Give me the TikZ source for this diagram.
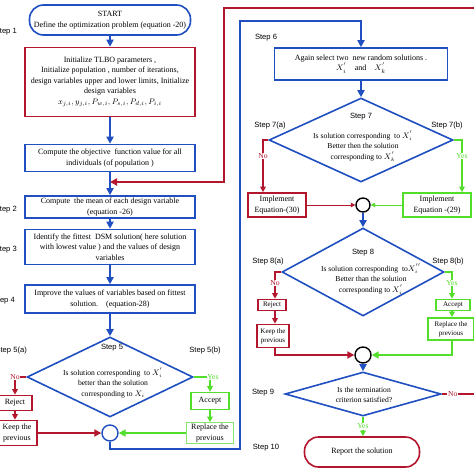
\documentclass[tikz,border=0pt]{standalone}
\usepackage{fontspec}
\setmainfont{Liberation Serif}
\newfontfamily\passofont{Liberation Sans}
\usepackage{amsmath}
\usetikzlibrary{shapes.geometric, arrows.meta, positioning, calc}

\begin{document}
\begin{tikzpicture}[x=1pt, y=-1pt,
  seta/.style={-{Triangle[length=7pt, width=7pt]}, line width=1.8pt},
  setinha/.style={-{Triangle[length=5.5pt, width=5.5pt]}, line width=1.3pt},
  setafina/.style={-{Triangle[length=4.5pt, width=4.5pt]}, line width=0.8pt},
  caixa/.style={draw=#1, line width=1.6pt, fill=white, align=center, inner sep=0pt, font=\fontsize{8}{10.5}\selectfont},
  caixa/.default=azul,
  caixinha/.style={caixa=#1, font=\fontsize{7}{9}\selectfont},
  terminal/.style={caixa=#1, rounded corners=14pt},
  losango/.style={diamond, draw=azul, line width=1.6pt, fill=white, inner sep=0pt},
  texto/.style={align=center, inner sep=0pt, font=\fontsize{7.6}{10.5}\selectfont},
  passo/.style={inner sep=0pt, font=\passofont\fontsize{7.6}{9}\selectfont},
  juncao/.style={circle, draw=#1, line width=1.4pt, fill=white, inner sep=0pt},
  rotulo/.style={text=#1, fill=white, inner sep=0.6pt, font=\fontsize{7.6}{9}\selectfont},
]
% --- CORES HEX DO FLUXOGRAMA ---
\definecolor{azul}{HTML}{1F4FC0}
\definecolor{vermelho}{HTML}{B3162D}
\definecolor{verde}{HTML}{52DE2A}

\useasboundingbox (0,0) rectangle (474,474);

% LAYER 1: Coluna da esquerda (passos 1 a 4)
\node[terminal=azul, minimum width=161pt, minimum height=30pt] (inicio) at (110,20) {START\\Define the optimization problem (equation -20)};
\node[caixa=vermelho, minimum width=170pt, minimum height=69pt] (ini) at (110,82) {Initialize TLBO parameters ,\\Initialize population , number of iterations,\\design variables upper and lower limits, Initialize\\design variables\\$x_{j,i},y_{j,i},P_{w,i},P_{s,i},P_{d,i},P_{i,i}$};
\node[caixa, minimum width=170pt, minimum height=27pt] (objetivo) at (110,158) {Compute the objective\ \ function value for all\\individuals (of population )};
\node[caixa, minimum width=170pt, minimum height=22pt] (media) at (110,207) {Compute\ \ the mean of each design variable\\(equation -26)};
\node[caixa, minimum width=170pt, minimum height=35pt] (melhor) at (110,247) {Identify the fittest\ \ DSM solution( here solution\\with lowest value ) and the values of design\\variables};
\node[caixa, minimum width=170pt, minimum height=28pt] (melhora) at (110,299) {Improve the values of variables based on fittest\\solution.\quad (equation-28)};
\node[passo, anchor=east] (p1) at (17,32) {Step 1};
\node[passo, anchor=east] (p2) at (17,210) {Step 2};
\node[passo, anchor=east] (p3) at (17,250) {Step 3};
\node[passo, anchor=east] (p4) at (15,301) {Step 4};

\draw[seta, azul] (inicio.south) -- (ini.north);
\draw[seta, azul] (ini.south) -- (objetivo.north);
\draw[seta, azul] (objetivo.south) -- (media.north);
\draw[seta, azul] (media.south) -- (melhor.north);
\draw[seta, azul] (melhor.south) -- (melhora.north);

% LAYER 2: Passo 5 (losango e ramos)
\node[losango, minimum width=166pt, minimum height=80pt] (d5) at (110,377) {};
\node[passo] (p5) at (112,348) {Step 5};
\node[texto] (t5) at (113,383) {Is solution corresponding\ \ to $X_i^{'}$\\better than the solution\\corresponding to $X_i$};
\node[passo, anchor=east] (p5a) at (27,351) {Step 5(a)};
\node[passo] (p5b) at (205,351) {Step 5(b)};
\node[caixa=vermelho, minimum width=34pt, minimum height=15pt] (rej5) at (15,403) {Reject};
\node[caixa=vermelho, minimum width=40pt, minimum height=25pt] (mant5) at (17,433) {Keep the\\previous};
\node[caixa=verde, minimum width=38pt, minimum height=17pt] (ace5) at (210,401) {Accept};
\node[caixa=verde!70, line width=0.6pt, minimum width=47pt, minimum height=21pt] (sub5) at (210,433) {Replace the\\previous};
\node[juncao=azul, minimum size=16pt] (c5) at (110,433) {};

\draw[seta, azul] (melhora.south) -- (d5.north);
\draw[setinha, vermelho] (d5.west) -| (rej5.north) node[rotulo=vermelho, pos=0.5] {No};
\draw[setinha, vermelho] (rej5.south) -- (rej5.south |- mant5.north);
\draw[seta, vermelho] (mant5.east) -- (c5.west);
\draw[setinha, verde] (d5.east) -| (ace5.north) node[rotulo=verde, pos=0.5, xshift=3pt] {Yes};
\draw[setinha, verde] (ace5.south) -- (sub5.north);
\draw[seta, verde] (sub5.west) -- (c5.east);

% LAYER 3: Coluna da direita (passos 6 e 7)
\node[passo] (p6) at (266,38) {Step 6};
\node[caixa, minimum width=173pt, minimum height=32pt] (sel) at (361,64) {Again select two\ \ new random solutions .\\$X_i^{'}$\quad and\quad $X_k^{'}$};
\node[losango, minimum width=184pt, minimum height=84pt] (d7) at (361,140) {};
\node[passo] (p7) at (361,117) {Step 7};
\node[texto] (t7) at (363,146) {Is solution corresponding\ \ to $X_i^{'}$\\Better then the solution\\corresponding to $X_k^{'}$};
\node[passo] (p7a) at (270,126) {Step 7(a)};
\node[passo] (p7b) at (447,126) {Step 7(b)};
\node[caixa=vermelho, minimum width=58pt, minimum height=24pt] (eq30) at (277,205) {Implement\\Equation-(30)};
\node[caixa=verde, minimum width=68pt, minimum height=24pt] (eq29) at (437,205) {Implement\\Equation -(29)};
\node[juncao=black, minimum size=14pt] (c7) at (363,205) {};
\coordinate (nao7) at (263,140);
\coordinate (sim7) at (462,140);

\draw[seta, azul] (sel.south) -- (d7.north);
\draw[setinha, vermelho] (d7.west) -- (nao7) -- (eq30.north -| nao7) node[rotulo=vermelho, pos=0.3] {No};
\draw[setinha, verde] (d7.east) -- (sim7) -- (eq29.north -| sim7) node[rotulo=verde, pos=0.3] {Yes};
\draw[setafina, vermelho] (eq30.east) -- (c7.west);
\draw[setafina, verde] (eq29.west) -- (c7.east);

% LAYER 4: Passo 8
\node[losango, minimum width=162pt, minimum height=88pt] (d8) at (363,272) {};
\node[passo] (p8) at (363,253) {Step 8};
\node[texto] (t8) at (371,279) {Is solution corresponding\ \ to$X_i^{''}$\\Better than the solution\\corresponding to $X_i^{'}$};
\node[passo] (p8a) at (268,262) {Step 8(a)};
\node[passo] (p8b) at (448,262) {Step 8(b)};
\node[caixinha=vermelho, minimum width=28pt, minimum height=11pt] (rej8) at (272,305) {Reject};
\node[caixinha=vermelho, minimum width=32pt, minimum height=23pt] (mant8) at (273,336) {Keep the\\previous};
\node[caixinha=verde, minimum width=34pt, minimum height=11pt] (ace8) at (453,305) {Accept};
\node[caixinha=verde, minimum width=46pt, minimum height=22pt] (sub8) at (451,329) {Replace the\\previous};
\node[juncao=black, minimum size=16pt] (c8) at (363,355) {};
\coordinate (nao8) at (275,272);
\coordinate (sim8) at (452,272);

\draw[seta, azul] (c7.south) -- (d8.north);
\draw[setinha, vermelho] (d8.west) -- (nao8) -- (rej8.north -| nao8) node[rotulo=vermelho, pos=0.4] {No};
\draw[setinha, vermelho] (rej8.south -| nao8) -- (mant8.north -| nao8);
\draw[seta, vermelho] (mant8.south -| nao8) |- (c8.west);
\draw[setinha, verde] (d8.east) -- (sim8) -- (ace8.north -| sim8) node[rotulo=verde, pos=0.4] {Yes};
\draw[setinha, verde] (ace8.south -| sim8) -- (sub8.north -| sim8);
\draw[seta, verde] (sub8.south -| sim8) |- (c8.east);

% LAYER 5: Passos 9 e 10
\node[losango, minimum width=156pt, minimum height=44pt] (d9) at (363,394) {};
\node[texto] (t9) at (364,395) {Is the termination\\criterion satisfied?};
\node[passo] (p9) at (263,393) {Step 9};
\node[terminal=vermelho, minimum width=115pt, minimum height=30pt] (fim) at (362,452) {Report the solution};
\node[passo] (p10) at (266,448) {Step 10};

\draw[seta, azul] (c8.south) -- (d9.north);
\draw[setinha, verde] (d9.south) -- (d9.south |- fim.north) node[rotulo=verde, pos=0.5] {Yes};

% LAYER 6: Laços de retorno
\coordinate (voltaA) at (240,449);
\coordinate (voltaB) at (240,21);
\draw[seta, azul] (c5.south) |- (voltaA) -- (voltaB) -| (sel.north);
\coordinate (retA) at (478,394);
\coordinate (retB) at (224,8);
\coordinate (junta) at (110,182);
\draw[seta, vermelho] (d9.east) -- node[rotulo=vermelho, pos=0.3] {No} (retA) |- (retB) |- (junta);
\end{tikzpicture}
\end{document}
